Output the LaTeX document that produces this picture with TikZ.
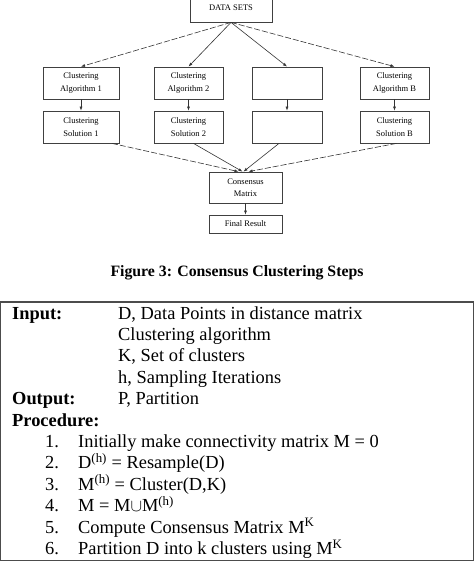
\documentclass[tikz,border=0pt]{standalone}
\usepackage{fontspec}
\setmainfont{Liberation Serif}
\usetikzlibrary{arrows.meta, positioning}

\tikzset{
    box/.style={draw=black!75, line width=0.8pt, minimum height=32pt, align=center, inner sep=0pt, font=\fontsize{8.5}{12.5}\selectfont},
    flow/.style={->, draw=black!80, line width=0.6pt},
    dflow/.style={flow, dash pattern=on 6pt off 2pt},
    row/.style={anchor=base west, inner sep=0pt, font=\fontsize{18.4}{21}\selectfont}
}

\begin{document}
\begin{tikzpicture}[x=1pt, y=-1pt, >={Latex[length=4pt, width=3pt]}]
                        \useasboundingbox (0, 0) rectangle (474, 561);

                        \node[box, minimum width=82pt, minimum height=28pt] (ds) at (231, 8) {DATA SETS};

                        \node[box, minimum width=76pt] (a1) at (81, 83) {Clustering \\ Algorithm 1};
                        \node[box, minimum width=69pt] (a2) at (188.5, 83) {Clustering \\ Algorithm 2};
                        \node[box, minimum width=70pt] (a3) at (287, 83) {};
                        \node[box, minimum width=69pt] (ab) at (394.5, 83) {Clustering \\ Algorithm B};

                        \node[box, minimum width=76pt] (s1) at (81, 127) {Clustering \\ Solution 1};
                        \node[box, minimum width=69pt] (s2) at (188.5, 127) {Clustering \\ Solution 2};
                        \node[box, minimum width=70pt] (s3) at (287, 127) {};
                        \node[box, minimum width=69pt] (sb) at (394.5, 127) {Clustering \\ Solution B};

                        \node[box, minimum width=73pt, minimum height=31pt] (cm) at (245.5, 187.5) {Consensus \\ Matrix};
                        \node[box, minimum width=73pt, minimum height=18pt] (fr) at (245.5, 224) {Final Result};

                        \draw[dflow] (ds.south) -- (a1.north);
                        \draw[flow] (ds.south) -- (a2.north);
                        \draw[flow] (ds.south) -- (a3.north);
                        \draw[dflow] (ds.south) -- (ab.north);

                        \draw[flow] (a1) -- (s1);
                        \draw[flow] (a2) -- (s2);
                        \draw[flow] (a3) -- (s3);
                        \draw[flow] (ab) -- (sb);

                        \draw[dflow] ([xshift=31pt]s1.south) -- ([xshift=-7pt]cm.north);
                        \draw[flow] ([xshift=5pt]s2.south) -- ([xshift=-3pt]cm.north);
                        \draw[flow] ([xshift=-8pt]s3.south) -- ([xshift=-2pt]cm.north);
                        \draw[dflow] ([xshift=2pt]sb.south) -- ([xshift=3pt]cm.north);
                        \draw[flow] (cm) -- (fr);

                        \node[anchor=base, inner sep=0pt, font=\fontsize{15.8}{18}\selectfont\bfseries] (cap) at (237, 276) {Figure 3: Consensus Clustering Steps};

                        \draw[line width=1.2pt, black!70] (0.6, 302) rectangle (473.4, 560.4);

                        \node[row, font=\fontsize{18.4}{21}\selectfont\bfseries] (in) at (12, 319) {Input:};
                        \node[row] (in1) at (118, 319) {D, Data Points in distance matrix};
                        \node[row] (in2) at (118, 340.4) {Clustering algorithm};
                        \node[row] (in3) at (118, 361.8) {K, Set of clusters};
                        \node[row] (in4) at (118, 383.2) {h, Sampling Iterations};
                        \node[row, font=\fontsize{18.4}{21}\selectfont\bfseries] (out) at (12, 404.6) {Output:};
                        \node[row] (out1) at (118, 404.6) {P, Partition};
                        \node[row, font=\fontsize{18.4}{21}\selectfont\bfseries] (proc) at (12, 426) {Procedure:};

                        \node[row] (n1) at (45, 447.4) {1.};
                        \node[row] (n2) at (45, 468.8) {2.};
                        \node[row] (n3) at (45, 490.2) {3.};
                        \node[row] (n4) at (45, 511.6) {4.};
                        \node[row] (n5) at (45, 533) {5.};
                        \node[row] (n6) at (45, 554.4) {6.};

                        \node[row] (p1) at (78, 447.4) {Initially make connectivity matrix M = 0};
                        \node[row] (p2) at (78, 468.8) {D\textsuperscript{(h)} = Resample(D)};
                        \node[row] (p3) at (78, 490.2) {M\textsuperscript{(h)} = Cluster(D,K)};
                        \node[row] (p4) at (78, 511.6) {M = M$\cup$M\textsuperscript{(h)}};
                        \node[row] (p5) at (78, 533) {Compute Consensus Matrix M\textsuperscript{K}};
                        \node[row] (p6) at (78, 554.4) {Partition D into k clusters using M\textsuperscript{K}};
                    \end{tikzpicture}
\end{document}
